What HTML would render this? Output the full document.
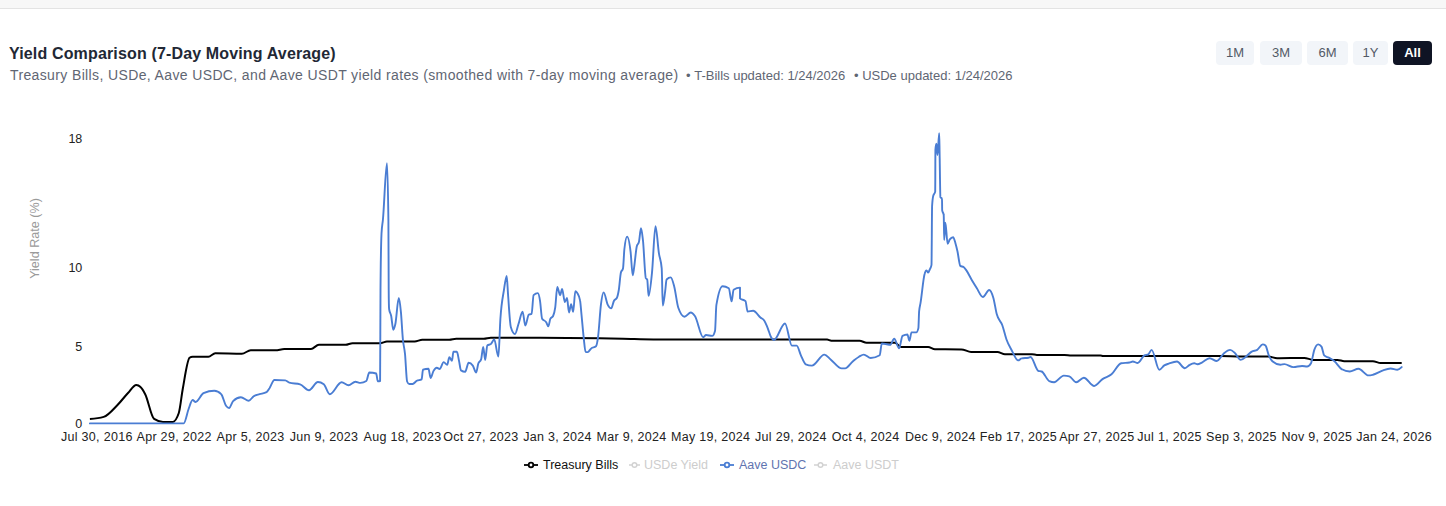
<!DOCTYPE html>
<html><head><meta charset="utf-8">
<style>
html,body{margin:0;padding:0;background:#fff;}
body{width:1446px;height:506px;overflow:hidden;position:relative;font-family:"Liberation Sans",sans-serif;}
.topbar{position:absolute;left:0;top:0;width:1446px;height:8px;background:#f7f7f7;border-bottom:1px solid #e3e3e3;}
.title{position:absolute;left:9px;top:45px;font-size:16px;font-weight:bold;color:#222835;white-space:nowrap;letter-spacing:0.15px;}
.sub{position:absolute;left:10px;top:67px;font-size:14px;color:#5f6673;white-space:nowrap;letter-spacing:0.37px;}
.upd{position:absolute;top:68px;font-size:13px;color:#5f6673;white-space:nowrap;}
.btn{position:absolute;top:41px;height:24px;line-height:24px;font-size:13px;text-align:center;border-radius:4px;background:#f2f5f9;color:#525a66;}
.btn.on{background:#0f1424;color:#fff;font-weight:bold;}
svg{position:absolute;left:0;top:0;}
.ax text{font-size:12.5px;letter-spacing:0.3px;fill:#222;font-family:"Liberation Sans",sans-serif;}
.leg{position:absolute;top:458px;font-size:12.5px;white-space:nowrap;}
</style></head><body>
<div class="topbar"></div>
<div class="title">Yield Comparison (7-Day Moving Average)</div>
<div class="sub">Treasury Bills, USDe, Aave USDC, and Aave USDT yield rates (smoothed with 7-day moving average)</div>
<div class="upd" style="left:686px">•&nbsp;T-Bills updated: 1/24/2026</div>
<div class="upd" style="left:854px">•&nbsp;USDe updated: 1/24/2026</div>
<div class="btn" style="left:1216px;width:38px">1M</div>
<div class="btn" style="left:1260px;width:42px">3M</div>
<div class="btn" style="left:1307px;width:41px">6M</div>
<div class="btn" style="left:1353px;width:35px">1Y</div>
<div class="btn on" style="left:1393px;width:39px">All</div>
<svg width="1446" height="506" viewBox="0 0 1446 506">
<g class="ax" text-anchor="middle">
<text x="96.8" y="441">Jul 30, 2016</text>
<text x="174.1" y="441">Apr 29, 2022</text>
<text x="250.5" y="441">Apr 5, 2023</text>
<text x="324" y="441">Jun 9, 2023</text>
<text x="402.6" y="441">Aug 18, 2023</text>
<text x="480.9" y="441">Oct 27, 2023</text>
<text x="557.5" y="441">Jan 3, 2024</text>
<text x="631.5" y="441">Mar 9, 2024</text>
<text x="710.7" y="441">May 19, 2024</text>
<text x="790.9" y="441">Jul 29, 2024</text>
<text x="865.6" y="441">Oct 4, 2024</text>
<text x="940.3" y="441">Dec 9, 2024</text>
<text x="1018.4" y="441">Feb 17, 2025</text>
<text x="1096.8" y="441">Apr 27, 2025</text>
<text x="1169.5" y="441">Jul 1, 2025</text>
<text x="1241.4" y="441">Sep 3, 2025</text>
<text x="1316.8" y="441">Nov 9, 2025</text>
<text x="1394.1" y="441">Jan 24, 2026</text>
</g>
<g class="ax" text-anchor="end">
<text x="82.3" y="143.2" style="letter-spacing:0">18</text>
<text x="82.3" y="271.5" style="letter-spacing:0">10</text>
<text x="82.3" y="350.5" style="letter-spacing:0">5</text>
<text x="82.3" y="428.2" style="letter-spacing:0">0</text>
</g>
<text transform="translate(39,238.5) rotate(-90)" text-anchor="middle" style="font-size:12.6px;fill:#9a9a9a;font-family:'Liberation Sans',sans-serif">Yield Rate (%)</text>
<path d="M89.9,418.9C94.5,418.6 99.1,418.2 103.7,416.9C108.3,415.6 112.9,409.7 117.5,405.0C121.0,401.4 124.5,396.7 128.0,393.0C130.8,390.1 133.5,384.9 136.3,384.9C137.7,384.9 139.1,385.6 140.5,387.0C142.1,388.5 143.6,391.1 145.2,394.2C148.2,400.0 151.1,416.9 154.1,418.9C157.1,420.9 160.0,421.9 163.0,421.9C166.3,421.9 169.5,421.9 172.8,421.9C174.8,421.9 176.8,418.9 178.8,413.0C180.1,409.1 181.4,396.5 182.7,389.3C185.0,376.6 187.3,359.2 189.6,357.7C190.6,357.0 191.6,356.7 192.6,356.7C197.9,356.7 203.1,356.7 208.4,356.7C210.7,356.7 213.0,353.3 215.3,353.3C224.2,353.3 233.0,353.7 241.9,353.7C244.8,353.7 247.8,350.3 250.7,350.3C258.9,350.3 267.2,350.3 275.4,350.3C278.4,350.3 281.3,349.0 284.3,349.0C293.2,349.0 302.1,349.0 311.0,349.0C313.6,349.0 316.3,344.8 318.9,344.8C327.8,344.8 336.7,344.8 345.6,344.8C347.9,344.8 350.2,343.2 352.5,343.2C361.7,343.2 370.9,343.2 380.1,343.2C382.4,343.2 384.7,341.5 387.0,341.5C396.2,341.5 405.5,341.5 414.7,341.5C417.2,341.5 419.8,339.8 422.3,339.8C431.3,339.8 440.3,339.8 449.3,339.8C451.6,339.8 453.9,338.8 456.2,338.8C465.4,338.8 474.6,338.8 483.8,338.8C486.1,338.8 488.5,337.8 490.8,337.8C507.2,337.8 523.6,337.8 540.0,337.8C567.7,337.8 595.3,338.2 623.0,338.7C633.1,338.9 643.3,339.4 653.4,339.4C682.3,339.5 711.1,339.6 740.0,339.6C769.0,339.6 798.1,339.6 827.1,339.6C828.5,339.6 829.9,340.7 831.3,340.7C840.7,340.7 850.2,340.7 859.6,340.7C861.9,340.7 864.3,342.8 866.6,342.8C876.0,342.8 885.5,342.8 894.9,342.8C897.0,342.8 899.0,347.0 901.1,347.0C910.1,347.0 919.1,347.0 928.1,347.0C930.4,347.0 932.7,349.3 935.0,349.3C943.8,349.4 952.6,349.3 961.4,349.4C964.6,349.4 967.9,351.9 971.1,351.9C979.9,351.9 988.6,351.9 997.4,351.9C999.9,351.9 1002.5,354.2 1005.0,354.2C1014.0,354.2 1023.0,354.2 1032.0,354.2C1033.6,354.2 1035.2,354.9 1036.8,354.9C1046.0,354.9 1055.3,354.9 1064.5,354.9C1066.8,354.9 1069.1,355.6 1071.4,355.6C1081.1,355.6 1090.7,355.6 1100.4,355.6C1101.3,355.6 1102.3,356.0 1103.2,356.0C1142.4,356.0 1181.5,356.0 1220.7,356.0C1227.3,356.0 1234.0,356.5 1240.6,356.5C1249.8,356.5 1259.1,356.5 1268.3,356.5C1271.2,356.5 1274.2,358.2 1277.1,358.2C1286.2,358.2 1295.2,357.9 1304.3,357.9C1307.3,357.9 1310.2,359.9 1313.2,359.9C1321.3,359.9 1329.4,359.9 1337.5,359.9C1339.7,359.9 1342.0,361.2 1344.2,361.2C1353.8,361.2 1363.3,361.2 1372.9,361.2C1375.5,361.2 1378.1,363.0 1380.7,363.0C1387.7,363.0 1394.7,363.0 1401.7,363.0" fill="none" stroke="#000" stroke-width="2" stroke-linejoin="round" stroke-linecap="butt"/>
<path d="M89.9,423.4C121.2,423.4 152.4,423.4 183.7,423.4C185.3,423.4 187.0,413.2 188.6,409.0C189.9,405.6 191.3,400.0 192.6,400.0C193.6,400.0 194.6,402.0 195.6,402.0C198.2,402.0 200.9,394.4 203.5,393.2C207.1,391.6 210.7,390.8 214.3,390.8C216.6,390.8 218.9,391.9 221.2,394.2C222.9,395.8 224.5,403.8 226.2,406.0C227.2,407.3 228.1,408.0 229.1,408.0C230.4,408.0 231.8,402.4 233.1,401.1C235.7,398.5 238.3,397.2 240.9,397.2C243.5,397.2 246.2,400.7 248.8,400.7C250.4,400.7 252.1,397.3 253.7,396.2C255.7,394.9 257.6,394.8 259.6,394.2C261.9,393.5 264.2,393.5 266.5,392.2C267.5,391.6 268.5,389.7 269.5,388.3C271.1,385.9 272.8,380.0 274.4,380.0C278.0,380.0 281.7,380.1 285.3,380.4C286.6,380.5 288.0,382.3 289.3,382.7C292.9,383.8 296.5,383.2 300.1,384.3C303.1,385.2 306.0,390.2 309.0,390.2C312.0,390.2 314.9,382.0 317.9,382.0C319.9,382.0 321.8,382.8 323.8,384.3C325.8,385.9 327.8,394.2 329.8,394.2C333.7,394.2 337.7,382.3 341.6,382.3C343.9,382.3 346.2,385.3 348.5,385.3C350.8,385.3 353.1,381.8 355.4,381.8C357.1,381.8 358.7,382.9 360.4,382.9C362.4,382.9 364.3,382.3 366.3,381.0C367.3,380.4 368.3,372.5 369.3,372.5C371.6,372.5 373.9,372.8 376.2,373.5C376.7,373.7 377.3,381.4 377.8,381.4C378.6,381.4 379.3,381.3 380.1,381.0C380.2,381.0 380.4,305.0 380.5,290.0C380.8,252.5 381.2,240.4 381.5,233.8C382.0,224.6 382.4,225.1 382.9,220.0C384.3,205.1 385.6,163.1 387.0,163.1C387.5,163.1 387.9,182.1 388.4,220.0C388.5,228.1 388.6,280.5 388.7,290.0C388.8,302.7 389.0,308.1 389.1,309.0C389.8,313.7 390.5,312.5 391.2,316.0C391.9,319.5 392.6,329.8 393.3,329.8C394.0,329.8 394.6,327.3 395.3,324.3C396.5,319.1 397.6,298.0 398.8,298.0C399.5,298.0 400.2,304.6 400.9,311.8C401.6,318.7 402.2,332.6 402.9,339.5C403.6,346.8 404.3,346.8 405.0,353.8C405.7,360.8 406.4,379.8 407.1,381.5C407.8,383.2 408.5,384.0 409.2,384.0C410.3,384.0 411.5,384.0 412.6,384.0C414.0,384.0 415.4,381.6 416.8,380.8C418.4,379.9 420.0,380.3 421.6,379.4C422.1,379.1 422.5,369.9 423.0,369.7C424.8,369.1 426.7,368.8 428.5,368.8C429.2,368.8 429.9,378.0 430.6,378.0C431.5,378.0 432.5,372.8 433.4,371.1C434.5,369.1 435.7,367.7 436.8,367.7C437.7,367.7 438.7,369.0 439.6,369.0C441.0,369.0 442.3,362.1 443.7,362.1C444.9,362.1 446.0,364.9 447.2,364.9C447.9,364.9 448.6,357.3 449.3,357.3C450.2,357.3 451.1,360.7 452.0,360.7C452.5,360.7 452.9,351.8 453.4,351.8C454.6,351.8 455.7,351.8 456.9,351.8C457.6,351.8 458.3,357.5 459.0,360.7C459.7,363.7 460.3,370.0 461.0,370.4C462.4,371.3 463.8,371.8 465.2,371.8C466.3,371.8 467.5,362.8 468.6,362.8C470.0,362.8 471.4,363.7 472.8,365.6C473.9,367.1 475.1,372.5 476.2,372.5C476.9,372.5 477.6,365.6 478.3,363.5C479.2,360.8 480.2,362.1 481.1,359.4C481.8,357.4 482.5,346.9 483.2,346.9C483.9,346.9 484.5,360.0 485.2,360.0C485.9,360.0 486.6,346.1 487.3,345.5C488.5,344.6 489.6,345.0 490.8,344.1C491.9,343.2 493.1,339.5 494.2,339.5C495.6,339.5 497.0,356.6 498.4,356.6C499.1,356.6 499.7,328.7 500.4,318.7C501.6,301.2 502.7,297.9 503.9,290.4C504.8,284.4 505.8,276.0 506.7,276.0C507.1,276.0 507.6,288.1 508.0,293.8C508.9,306.0 509.9,323.9 510.8,327.0C512.2,331.7 513.6,334.0 515.0,334.0C516.1,334.0 517.3,327.6 518.4,324.3C519.8,320.2 521.2,311.8 522.6,311.8C523.5,311.8 524.4,325.6 525.3,325.6C526.5,325.6 527.6,315.2 528.8,314.6C529.7,314.1 530.7,314.4 531.6,313.9C532.3,313.6 532.9,295.9 533.6,295.2C535.0,293.8 536.4,293.1 537.8,293.1C538.5,293.1 539.3,296.2 540.0,300.7C540.7,305.0 541.4,317.5 542.1,318.7C543.5,321.0 544.8,320.0 546.2,322.2C546.9,323.3 547.6,326.3 548.3,326.3C549.0,326.3 549.7,320.1 550.4,318.7C551.3,316.9 552.2,317.8 553.1,316.0C553.8,314.6 554.5,312.6 555.2,307.7C555.9,302.9 556.6,286.9 557.3,286.9C558.2,286.9 559.2,295.2 560.1,295.2C560.8,295.2 561.4,289.0 562.1,289.0C563.0,289.0 564.0,302.1 564.9,302.1C565.6,302.1 566.3,298.0 567.0,298.0C567.7,298.0 568.3,312.5 569.0,312.5C569.7,312.5 570.4,304.2 571.1,304.2C571.8,304.2 572.5,311.8 573.2,311.8C573.9,311.8 574.6,291.1 575.3,291.1C576.0,291.1 576.6,292.0 577.3,293.1C578.2,294.7 579.2,295.6 580.1,300.7C580.6,303.2 581.0,309.9 581.5,314.6C582.2,321.7 582.9,330.4 583.6,336.7C584.3,342.7 584.9,351.6 585.6,351.8C586.3,352.0 587.0,352.1 587.7,352.1C588.9,352.1 590.0,349.3 591.2,348.4C592.8,347.1 594.4,347.7 596.0,346.3C596.7,345.7 597.4,341.8 598.1,336.6C599.0,329.6 600.0,312.3 600.9,304.9C601.8,297.8 602.7,292.4 603.6,292.4C605.0,292.4 606.4,302.2 607.8,304.9C608.9,307.1 610.1,308.4 611.2,308.4C612.1,308.4 613.1,302.4 614.0,300.7C614.9,299.0 615.9,299.8 616.8,298.0C617.5,296.7 618.1,294.1 618.8,290.0C619.5,285.7 620.2,275.4 620.9,272.6C621.6,269.8 622.3,271.2 623.0,268.4C623.5,266.5 623.9,253.3 624.4,249.0C625.3,240.7 626.2,236.6 627.1,236.6C628.3,236.6 629.4,241.7 630.6,251.8C631.3,257.8 632.0,275.3 632.7,275.3C633.1,275.3 633.6,271.1 634.0,268.4C634.9,262.7 635.9,250.0 636.8,246.3C637.5,243.5 638.2,244.9 638.9,242.1C639.6,239.3 640.3,228.3 641.0,228.3C641.7,228.3 642.3,234.6 643.0,240.7C643.9,249.3 644.9,276.2 645.8,278.1C646.3,279.0 646.7,278.6 647.2,279.5C647.7,280.4 648.1,295.9 648.6,295.9C649.7,295.9 650.9,283.9 652.0,272.6C653.2,260.9 654.3,226.2 655.5,226.2C656.6,226.2 657.8,245.8 658.9,253.2C659.8,259.3 660.8,258.3 661.7,268.4C662.1,272.4 662.4,305.6 662.8,305.6C663.6,305.6 664.4,296.9 665.2,291.0C665.7,287.5 666.1,280.0 666.6,279.5C668.0,278.1 669.3,277.4 670.7,277.4C671.9,277.4 673.0,282.0 674.2,286.4C675.6,291.6 676.9,303.7 678.3,307.7C680.4,313.7 682.4,316.7 684.5,316.7C686.6,316.7 688.7,312.5 690.8,312.5C692.2,312.5 693.5,314.1 694.9,316.0C697.7,319.9 700.4,337.3 703.2,337.3C704.1,337.3 705.1,335.0 706.0,335.0C708.1,335.0 710.1,335.9 712.2,335.9C713.1,335.9 714.1,334.3 715.0,331.0C715.5,329.4 715.9,307.7 716.4,304.9C718.5,292.4 720.5,286.2 722.6,286.2C724.7,286.2 726.7,286.9 728.8,288.3C729.7,288.9 730.7,301.4 731.6,301.4C732.3,301.4 732.9,290.1 733.6,289.7C735.7,288.3 737.9,287.6 740.0,287.6L740.0,298.4C741.8,300.2 743.7,299.3 745.5,301.1C746.2,301.8 746.9,311.5 747.6,311.5C749.4,311.5 751.3,310.8 753.1,310.8C755.6,310.8 758.2,315.6 760.7,317.7C761.9,318.7 763.0,318.8 764.2,320.5C765.4,322.2 766.5,325.3 767.7,328.1C768.8,330.9 770.0,335.3 771.1,337.3C772.0,338.9 773.0,340.0 773.9,340.0C777.6,340.0 781.3,323.5 785.0,323.5C787.3,323.5 789.6,345.6 791.9,345.6C793.5,345.6 795.1,345.6 796.7,345.6C798.1,345.6 799.5,352.4 800.9,355.3C802.5,358.7 804.1,363.6 805.7,364.3C807.8,365.2 809.8,365.6 811.9,365.6C816.1,365.6 820.2,354.6 824.4,354.6C826.5,354.6 828.5,357.8 830.6,359.4C834.3,362.3 838.0,368.4 841.7,368.4C842.8,368.4 844.0,368.4 845.1,368.4C847.6,368.4 850.2,363.6 852.7,361.5C854.8,359.8 856.9,357.9 859.0,356.7C860.6,355.8 862.2,354.6 863.8,354.6C866.1,354.6 868.4,358.0 870.7,358.0C873.7,358.0 876.7,357.1 879.7,355.3C880.4,354.9 881.1,343.5 881.8,343.5C883.4,343.5 885.0,343.9 886.6,344.2C887.8,344.4 888.9,344.9 890.1,344.9C891.5,344.9 892.8,338.7 894.2,338.7C895.8,338.7 897.5,348.4 899.1,348.4C900.2,348.4 901.4,336.5 902.5,335.9C904.1,335.0 905.8,334.5 907.4,334.5C908.1,334.5 908.7,340.7 909.4,340.7C910.1,340.7 910.8,332.4 911.5,332.4C913.1,332.4 914.7,332.4 916.3,332.4C917.0,332.4 917.7,331.0 918.4,328.1C918.6,327.1 918.9,314.3 919.1,311.5C919.6,306.0 920.0,306.1 920.5,303.2C921.9,294.7 923.2,279.0 924.6,274.1C925.2,271.8 925.9,270.4 926.5,270.4C927.1,270.4 927.6,272.6 928.2,272.6C928.8,272.6 929.3,270.6 929.9,269.2C930.4,267.9 931.0,267.7 931.5,264.8C931.7,263.7 931.9,209.6 932.1,206.0C932.5,199.3 932.8,197.6 933.2,196.0C933.9,193.1 934.5,194.5 935.2,191.6C935.2,191.5 935.3,181.9 935.3,175.0C935.3,168.1 935.4,150.4 935.4,150.0C935.7,145.9 936.1,143.8 936.4,143.8C936.8,143.8 937.1,155.0 937.5,155.0C938.1,155.0 938.6,133.3 939.2,133.3C939.4,133.3 939.5,149.5 939.7,158.2C939.9,170.4 940.2,196.6 940.4,197.1C940.9,198.2 941.5,197.7 942.0,198.8C942.1,198.9 942.1,210.0 942.2,210.4C942.7,213.3 943.2,211.9 943.7,214.8C943.9,215.8 944.0,240.0 944.2,240.0C944.6,240.0 945.0,222.6 945.4,222.6C946.1,222.6 946.9,243.8 947.6,243.8C948.3,243.8 949.1,240.4 949.8,239.4C950.9,237.9 952.0,237.2 953.1,237.2C953.8,237.2 954.6,240.3 955.3,242.7C956.0,245.1 956.8,248.2 957.5,251.5C958.4,255.7 959.4,265.3 960.3,265.9C961.4,266.6 962.5,266.3 963.6,267.0C964.5,267.6 965.5,269.1 966.4,270.4C968.2,273.0 970.1,277.2 971.9,280.3C973.5,283.0 975.1,285.5 976.7,288.0C978.8,291.2 980.8,297.0 982.9,297.0C985.0,297.0 987.1,290.0 989.2,290.0C990.6,290.0 991.9,293.0 993.3,297.7C994.5,301.7 995.6,310.0 996.8,314.3C998.6,321.0 1000.5,320.2 1002.3,325.3C1003.7,329.1 1005.0,335.3 1006.4,339.2C1008.2,344.4 1010.1,347.3 1011.9,350.7C1014.0,354.5 1016.0,360.4 1018.1,360.4C1019.3,360.4 1020.4,358.6 1021.6,358.4C1023.9,357.9 1026.2,358.2 1028.5,357.7C1029.2,357.6 1029.9,357.0 1030.6,357.0C1033.1,357.0 1035.7,369.8 1038.2,370.8C1039.4,371.3 1040.5,371.0 1041.7,371.5C1044.2,372.5 1046.8,380.0 1049.3,381.2C1050.9,381.9 1052.5,382.3 1054.1,382.3C1057.3,382.3 1060.6,375.6 1063.8,375.6C1065.6,375.6 1067.5,375.8 1069.3,376.3C1071.6,376.9 1073.9,382.3 1076.2,382.3C1078.7,382.3 1081.3,377.7 1083.8,377.7C1087.3,377.7 1090.7,386.0 1094.2,386.0C1097.0,386.0 1099.7,381.0 1102.5,379.1C1105.5,377.0 1108.5,376.8 1111.5,374.3C1114.7,371.6 1118.0,363.7 1121.2,363.2C1124.0,362.7 1126.7,363.0 1129.5,362.5C1130.6,362.3 1131.7,361.5 1132.8,361.5C1134.4,361.5 1136.1,363.0 1137.7,363.0C1139.9,363.0 1142.2,356.7 1144.4,355.4C1145.7,354.7 1147.0,355.0 1148.3,354.3C1149.4,353.7 1150.5,349.9 1151.6,349.9C1154.2,349.9 1156.7,369.8 1159.3,369.8C1161.0,369.8 1162.6,366.4 1164.3,365.4C1165.8,364.5 1167.2,364.2 1168.7,363.7C1171.5,362.7 1174.2,361.5 1177.0,361.5C1179.6,361.5 1182.2,368.2 1184.8,368.2C1186.4,368.2 1188.1,365.6 1189.7,364.8C1191.2,364.0 1192.7,363.2 1194.2,363.2C1195.3,363.2 1196.4,364.3 1197.5,364.3C1199.0,364.3 1200.4,363.3 1201.9,362.6C1204.5,361.4 1207.0,358.2 1209.6,358.2C1212.0,358.2 1214.4,361.0 1216.8,361.0C1219.2,361.0 1221.6,355.1 1224.0,353.2C1226.0,351.6 1228.1,349.9 1230.1,349.9C1231.8,349.9 1233.4,351.7 1235.1,353.2C1236.9,354.9 1238.8,359.9 1240.6,359.9C1242.4,359.9 1244.3,357.9 1246.1,356.5C1248.0,355.1 1249.8,352.7 1251.7,351.6C1253.5,350.5 1255.4,351.0 1257.2,349.9C1259.0,348.8 1260.9,344.4 1262.7,344.4C1263.6,344.4 1264.6,344.8 1265.5,345.5C1266.6,346.4 1267.7,352.8 1268.8,355.4C1270.1,358.4 1271.4,360.4 1272.7,361.5C1275.3,363.7 1277.8,364.8 1280.4,364.8C1281.7,364.8 1283.1,364.1 1284.4,364.1C1287.4,364.1 1290.3,367.1 1293.3,367.1C1296.2,367.1 1299.2,366.0 1302.1,366.0C1303.8,366.0 1305.4,366.5 1307.1,366.5C1308.4,366.5 1309.7,365.4 1311.0,363.2C1312.1,361.3 1313.2,353.0 1314.3,349.9C1315.6,346.2 1316.9,344.4 1318.2,344.4C1319.3,344.4 1320.4,345.1 1321.5,346.6C1322.4,347.8 1323.3,354.5 1324.2,355.4C1325.7,356.9 1327.2,356.9 1328.7,357.7C1330.5,358.7 1332.4,359.5 1334.2,361.0C1336.8,363.1 1339.3,367.9 1341.9,369.3C1344.5,370.8 1347.1,371.5 1349.7,371.5C1352.6,371.5 1355.6,368.7 1358.5,368.7C1361.8,368.7 1365.2,375.4 1368.5,375.4C1370.0,375.4 1371.4,375.1 1372.9,374.8C1375.9,374.1 1378.8,372.0 1381.8,370.9C1384.7,369.9 1387.7,368.5 1390.6,368.5C1392.8,368.5 1395.1,369.8 1397.3,369.8C1398.8,369.8 1400.2,368.5 1401.7,367.1" fill="none" stroke="#4a7dd3" stroke-width="1.9" stroke-linejoin="round" stroke-linecap="round"/>
</svg>
<svg width="1446" height="506" viewBox="0 0 1446 506" style="pointer-events:none">
<g stroke-width="1.8" fill="#fff">
<line x1="524" y1="465" x2="538" y2="465" stroke="#000"/><circle cx="531" cy="465" r="2.3" stroke="#000"/>
<line x1="629" y1="465" x2="640" y2="465" stroke="#d2d2d2" stroke-width="1.5"/><circle cx="634.5" cy="465" r="2.3" stroke="#d2d2d2" stroke-width="1.5"/>
<line x1="720" y1="465" x2="734" y2="465" stroke="#4a7dd3"/><circle cx="727" cy="465" r="2.3" stroke="#4a7dd3"/>
<line x1="814" y1="465" x2="827" y2="465" stroke="#d2d2d2" stroke-width="1.5"/><circle cx="820.5" cy="465" r="2.3" stroke="#d2d2d2" stroke-width="1.5"/>
</g>
</svg>
<div class="leg" style="left:543px;color:#111">Treasury Bills</div>
<div class="leg" style="left:644px;color:#cdcdcd">USDe Yield</div>
<div class="leg" style="left:739px;color:#5f74b0">Aave USDC</div>
<div class="leg" style="left:833px;color:#cdcdcd">Aave USDT</div>
</body></html>
